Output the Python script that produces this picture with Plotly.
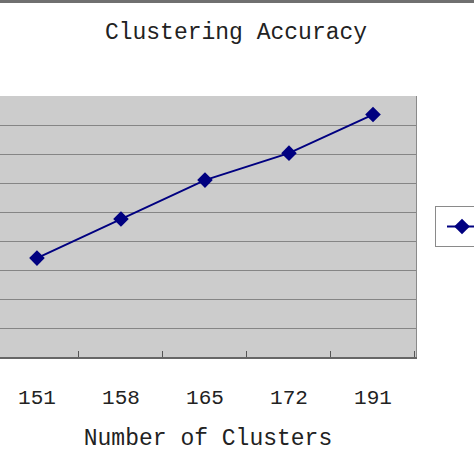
import plotly.graph_objects as go

clusters = ["151", "158", "165", "172", "191"]
accuracy = [34.1, 47.6, 61.0, 70.3, 83.6]
title_text = "Clustering Accuracy"
x_title = "Number of Clusters"
series_name = " "  # legend label lies outside the visible frame in the reference

FONT = "Liberation Mono, DejaVu Sans Mono, monospace"

fig = go.Figure()
fig.add_trace(go.Scatter(
    x=clusters, y=accuracy, name=series_name, mode="lines+markers", showlegend=True,
    line=dict(color="#000080", width=2),
    marker=dict(symbol="diamond", size=12, color="#000080"),
))

fig.update_layout(
    width=474, height=474,
    margin=dict(l=0, r=58, t=96, b=117, pad=0, autoexpand=False),
    paper_bgcolor="white", plot_bgcolor="#cccccc",
    title=dict(text=title_text, x=236/474, xanchor="center", y=1-31/474, yanchor="middle",
               font=dict(family=FONT, size=23, color="#222222")),
    font=dict(family=FONT, color="#222222"),
    showlegend=True,
    legend=dict(x=435/416, xanchor="left", y=0.5, yanchor="middle", indentation=6,
                bgcolor="white", bordercolor="#8a8a8a", borderwidth=1,
                font=dict(family=FONT, size=20, color="#222222")),
)
fig.update_xaxes(
    type="category", range=[-0.44, 4.512], automargin=False,
    tickson="boundaries", ticks="inside", ticklen=6, tickcolor="#555555", tickwidth=1,
    showgrid=False, showline=True, linecolor="#666666", linewidth=2, mirror=False,
    tickfont=dict(family=FONT, size=21, color="#222222"), ticklabelstandoff=20,
    title=dict(text=x_title, font=dict(family=FONT, size=23, color="#222222"), standoff=20),
)
fig.update_yaxes(
    range=[0, 90], dtick=10, showticklabels=False, automargin=False,
    showgrid=True, gridcolor="#858585", gridwidth=1,
    showline=True, linecolor="#8a8a8a", linewidth=1, mirror=True,
    zeroline=False,
)
fig.add_shape(type="rect", xref="paper", yref="paper",
              x0=0, x1=474/416, y0=(357-3)/261, y1=357/261,
              line=dict(width=0), fillcolor="#707070")
fig.write_html("out.html", config={"displayModeBar": False},
               post_script="document.body.style.margin='0';document.body.style.overflow='hidden';")
